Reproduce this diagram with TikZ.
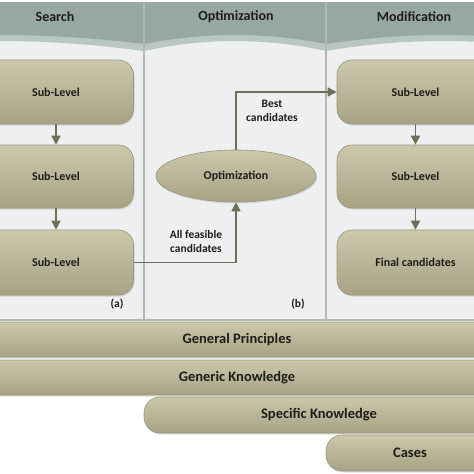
\documentclass[tikz,border=0pt]{standalone}
\usepackage{fontspec}
\setmainfont{Carlito}
\usetikzlibrary{arrows.meta,shadows,shapes.geometric}
\definecolor{hdr}{HTML}{97A8A4}
\definecolor{hdrlight}{HTML}{BAC6C4}
\definecolor{panel}{HTML}{EEEFF0}
\definecolor{divider}{HTML}{B3B7B7}
\definecolor{boxtop}{HTML}{CCC8AC}
\definecolor{boxbot}{HTML}{A7A284}
\definecolor{boxline}{HTML}{9A9678}
\definecolor{arrowc}{HTML}{6F6E58}
\definecolor{txt}{HTML}{1E1E18}
\begin{document}
\begin{tikzpicture}[x=1pt,y=-1pt,
  boxbase/.style={top color=boxtop, bottom color=boxbot, draw=boxline, line width=0.6pt,
    drop shadow={opacity=0.25,shadow xshift=1pt,shadow yshift=-1.5pt}, text=txt, inner sep=0pt},
  stepbox/.style={boxbase, rectangle, rounded corners=15pt, font=\fontsize{12}{14}\selectfont\bfseries},
  bar/.style={boxbase, rectangle, rounded corners=16pt, font=\fontsize{14.5}{16}\selectfont\bfseries},
  oval/.style={boxbase, ellipse, font=\fontsize{12}{14}\selectfont\bfseries},
  hdrtext/.style={font=\fontsize{14}{16}\selectfont\bfseries, text=txt},
  lbl/.style={font=\fontsize{11.5}{14}\selectfont\bfseries, text=txt, align=center, inner sep=0pt},
  arr/.style={draw=arrowc, line width=1.6pt, -{Triangle[width=9pt,length=9pt]}}
]
\useasboundingbox (0,0) rectangle (474,474);
\clip (0,0) rectangle (474,474);
% panels
\fill[panel] (0,2) rectangle (474,320);
% headers: light band then dark
\foreach \a/\b in {-143/143,144/326,326/560}{
  \pgfmathsetmacro{\ca}{\a+(\b-\a)/3}
  \pgfmathsetmacro{\cb}{\b-(\b-\a)/3}
  \fill[hdrlight] (\a,2) -- (\b,2) -- (\b,51) .. controls (\cb,37.7) and (\ca,37.7) .. (\a,51) -- cycle;
  \fill[hdr] (\a,2) -- (\b,2) -- (\b,44) .. controls (\cb,32) and (\ca,32) .. (\a,44) -- cycle;
}
% dividers
\draw[divider, line width=2pt] (144,2) -- (144,320);
\draw[divider, line width=2pt] (326,2) -- (326,320);
\draw[divider, line width=1.5pt] (0,320) -- (474,320);
% header texts
\node[hdrtext] (hs) at (55,17) {Search};
\node[hdrtext] (ho) at (236,17) {Optimization};
\node[hdrtext] (hm) at (414,17) {Modification};
% search boxes
\node[stepbox, minimum width=155pt, minimum height=64pt] (s1) at (56,92) {Sub-Level};
\node[stepbox, minimum width=155pt, minimum height=63pt] (s2) at (56,176.5) {Sub-Level};
\node[stepbox, minimum width=155pt, minimum height=65pt] (s3) at (56,262.5) {Sub-Level};
% optimization
\node[oval, minimum width=160pt, minimum height=52pt] (opt) at (236,176) {Optimization};
% modification boxes
\node[stepbox, minimum width=157pt, minimum height=64pt] (m1) at (415.5,92) {Sub-Level};
\node[stepbox, minimum width=157pt, minimum height=63pt] (m2) at (415.5,176.5) {Sub-Level};
\node[stepbox, minimum width=157pt, minimum height=65pt] (m3) at (415.5,262.5) {Final candidates};
% arrows
\draw[arr] (s1.south) -- (s2.north);
\draw[arr] (s2.south) -- (s3.north);
\draw[arr] (m1.south) -- (m2.north);
\draw[arr] (m2.south) -- (m3.north);
\draw[arr] (s3.east) -| (opt.south);
\draw[arr] (opt.north) |- (m1.west);
% labels
\node[lbl] (lfeas) at (196,242) {All feasible\\candidates};
\node[lbl] (lbest) at (272,111) {Best\\candidates};
\node[lbl] (la) at (117,304) {(a)};
\node[lbl] (lb) at (298,304) {(b)};
% bars
\node[bar, minimum width=514pt, minimum height=35pt] (gp) at (237,339.5) {General Principles};
\node[bar, minimum width=514pt, minimum height=35pt] (gk) at (237,377.5) {Generic Knowledge};
\node[bar, minimum width=350pt, minimum height=36pt] (sk) at (319,415) {Specific Knowledge};
\node[bar, minimum width=168pt, minimum height=36pt] (cs) at (410,453) {Cases};
\end{tikzpicture}
\end{document}
